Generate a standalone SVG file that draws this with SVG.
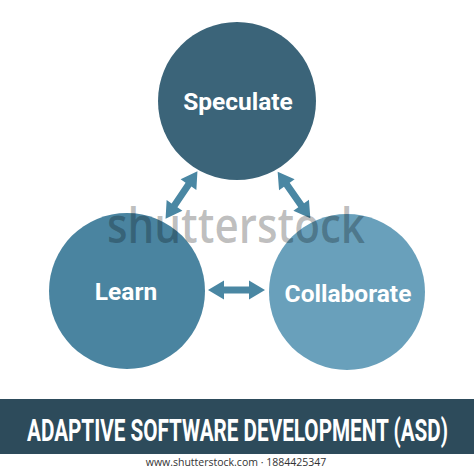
<svg xmlns="http://www.w3.org/2000/svg" width="474" height="470" viewBox="0 0 474 470">
<defs>
<style>
.lbl{font-family:Roboto,"Liberation Sans",sans-serif;font-weight:bold;fill:#ffffff;text-anchor:middle;font-size:24.5px}
.arr{fill:#4a87a3}
</style>
<path id="dbl" d="M-28.5,0 L-12.5,-9.5 L-12.5,-3.5 L12.5,-3.5 L12.5,-9.5 L28.5,0 L12.5,9.5 L12.5,3.5 L-12.5,3.5 L-12.5,9.5 Z"/>
</defs>
<rect width="474" height="470" fill="#ffffff"/>
<g id="speculate">
<circle cx="237" cy="101" r="79" fill="#3b6479"/>
<text class="lbl" x="238" y="110">Speculate</text>
</g>
<g id="learn">
<circle cx="127" cy="291" r="78" fill="#4a84a0"/>
<text class="lbl" x="126" y="300">Learn</text>
</g>
<g id="collaborate">
<circle cx="347" cy="292" r="78" fill="#69a0bb"/>
<text class="lbl" x="348" y="302">Collaborate</text>
</g>
<g id="connectors">
<use href="#dbl" class="arr" transform="translate(181.5,195) rotate(-56)"/>
<use href="#dbl" class="arr" transform="translate(294,195) rotate(55)"/>
<use href="#dbl" class="arr" transform="translate(236.5,290)"/>
</g>
<text x="236" y="243" font-family="'Open Sans','Liberation Sans',sans-serif" font-weight="600" font-size="48" text-anchor="middle" fill="#000000" fill-opacity="0.26" textLength="258" lengthAdjust="spacingAndGlyphs">shutterstock</text>
<g id="banner">
<rect x="0" y="399" width="474" height="55" fill="#2d4b5b"/>
<text x="237.5" y="441" font-family="Roboto,'Liberation Sans',sans-serif" font-weight="bold" font-size="32" fill="#ffffff" text-anchor="middle" textLength="421" lengthAdjust="spacingAndGlyphs">ADAPTIVE SOFTWARE DEVELOPMENT (ASD)</text>
</g>
<text x="236" y="466" font-family="'Open Sans','Liberation Sans',sans-serif" font-size="10.5" fill="#333333" text-anchor="middle">www.shutterstock.com · 1884425347</text>
</svg>
